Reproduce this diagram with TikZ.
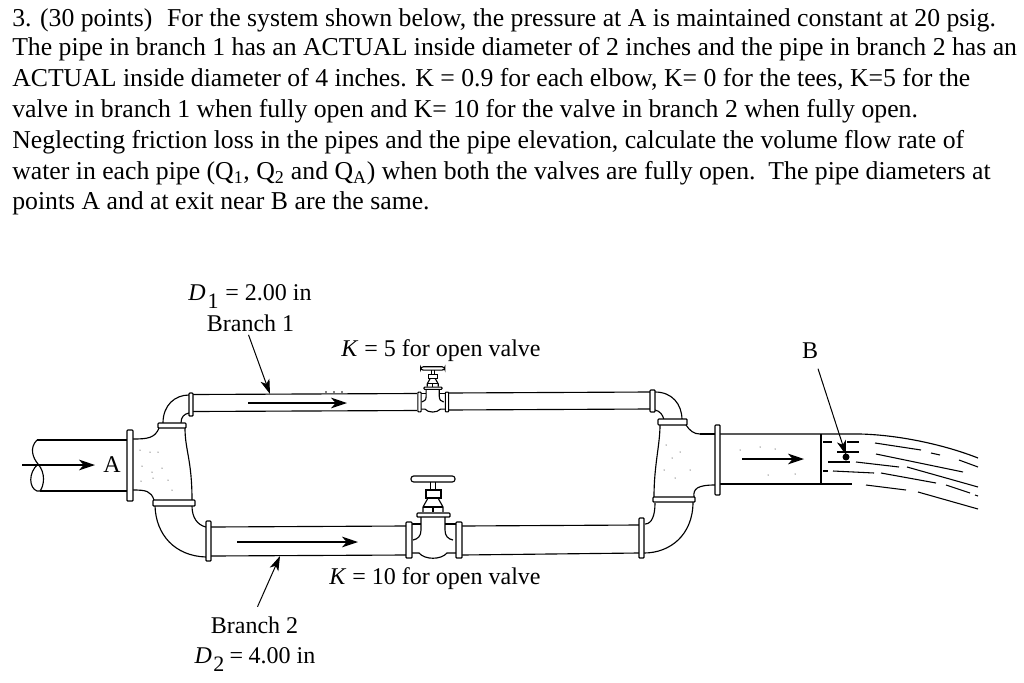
\documentclass[tikz,border=0pt]{standalone}
\usepackage{fontspec}
\setmainfont{Liberation Serif}
\usetikzlibrary{arrows.meta}
\tikzset{
  pipe/.style={line width=0.85pt},
  flange/.style={line width=0.85pt,fill=white,rounded corners=0.6pt},
  flow/.style={line width=0.85pt,-{Stealth[length=12pt,width=8pt,inset=3.5pt]}},
  leader/.style={line width=0.75pt,-{Stealth[length=11pt,width=7pt,inset=3pt]}},
  jet/.style={line width=0.8pt},
  para/.style={anchor=base west,font=\fontsize{19.3}{22}\selectfont,inner sep=0pt},
  lab/.style={anchor=base,font=\fontsize{18}{20}\selectfont,inner sep=1pt}
}
\newcommand{\subs}[1]{\raisebox{-0.35em}{\fontsize{16.5}{16.5}\selectfont #1}}
\begin{document}
\begin{tikzpicture}[x=0.75pt,y=-0.75pt]
\useasboundingbox (0,0) rectangle (1024,682);

% question text
\node[para] (lineA) at (12,26) {3. (30 points) \,\kern3pt For the system shown below, the pressure at A is maintained constant at 20 psig.};
\node[para] (lineB) at (12,55) {The pipe in branch 1 has an ACTUAL inside diameter of 2 inches and the pipe in branch 2 has an};
\node[para] (lineC) at (12,86) {ACTUAL inside diameter of 4 inches. K = 0.9 for each elbow, K= 0 for the tees, K=5 for the};
\node[para] (lineD) at (12,117) {valve in branch 1 when fully open and K= 10 for the valve in branch 2 when fully open.};
\node[para] (lineE) at (12,148) {Neglecting friction loss in the pipes and the pipe elevation, calculate the volume flow rate of};
\node[para] (lineF) at (12,179) {water in each pipe (Q\textsubscript{1}, Q\textsubscript{2} and Q\textsubscript{A}) when both the valves are fully open. \,The pipe diameters at};
\node[para] (lineG) at (12,209) {points A and at exit near B are the same.};

% inlet
\draw[pipe] (37,440) -- (127,440);
\draw[pipe] (40,491) -- (127,491);
\draw[pipe] (37,440) .. controls (29,448) and (33,458) .. (38,464) .. controls (46,473) and (44,486) .. (40,491);
\draw[pipe] (38,464) .. controls (28,473) and (29,488) .. (37,491) -- (40,491);
\draw[flow] (22,465) -- (95,465);

% left tee and elbows
\draw[pipe] (133,439) .. controls (148,439) and (155,438) .. (159,428);
\draw[pipe] (133,490) .. controls (146,490) and (151,491) .. (154,500);
\draw[pipe] (185,428) .. controls (185,450) and (192,460) .. (192,500);
\draw[pipe] (163,423) .. controls (163,405) and (175,395) .. (189,395);
\draw[pipe] (181,423) .. controls (181,417) and (184,414) .. (189,413);
\draw[pipe] (155,506) .. controls (156,535) and (175,556) .. (206,557);
\draw[pipe] (192,506) .. controls (192,517) and (197,525) .. (206,527);

% right tee and elbows
\draw[pipe] (700,434) -- (715,434);
\draw[pipe] (686,425) .. controls (690,431) and (694,434) .. (700,434);
\draw[pipe] (660,425) .. controls (660,445) and (654,465) .. (654,497);
\draw[pipe] (694,497) .. controls (693,489) and (697,485) .. (715,485);
\draw[pipe] (655,392) .. controls (672,392) and (682,404) .. (682,420);
\draw[pipe] (655,410) .. controls (660,411) and (663,415) .. (664,420);
\draw[pipe] (644,553) .. controls (670,553) and (693,535) .. (693,502);
\draw[pipe] (645,524) .. controls (652,524) and (655,515) .. (655,503);

% branch pipes
\draw[pipe] (193,394.5) -- (417,393.5);
\draw[pipe] (193,411.5) -- (417,410.5);
\draw[pipe] (448,393) -- (650,392);
\draw[pipe] (448,410) -- (650,409);
\draw[pipe] (211,527) -- (406,526);
\draw[pipe] (211,556) -- (406,555);
\draw[pipe] (462,526) -- (639,525);
\draw[pipe] (462,555) -- (639,553);
\draw[flow] (248,403) -- (347,403);
\draw[flow] (237,542) -- (358,542);

% outlet
\draw[pipe] (720,434) -- (860,434) .. controls (900,435) and (945,445) .. (978,458);
\draw[pipe] (720,484) -- (821,484);
\draw[line width=1.1pt] (821,434) -- (821,484);
\draw[flow] (742,459) -- (804,459);

% flanges
\foreach \xa/\ya/\xb/\yb in {127/430/133/501, 158/423/186/428, 153/500/195/506,
  189/393/193/416, 206/521/211/561, 650/390/655/412, 658/419/687/425, 653/497/695/502,
  715/425/720/495, 639/518/644/558}{
\draw[flange] (\xa,\ya) rectangle (\xb,\yb);}

% valves
\foreach \vx/\vy/\vs in {432.7/402/0.55, 433/540/1}{
\begin{scope}[shift={(\vx,\vy)},scale=\vs]
\draw[flange,rounded corners=2pt] (-22,-64) rectangle (22,-58);
\draw[pipe] (-2.5,-58) -- (-2.5,-50);
\draw[pipe] (2.5,-58) -- (2.5,-50);
\draw[pipe] (-7,-50) -- (8,-50) -- (8,-42) -- (-7,-42) -- cycle;
\draw[pipe] (-5,-42) -- (-10,-33) -- (-10,-28);
\draw[pipe] (5,-42) -- (10,-33) -- (10,-28);
\draw[pipe] (-10,-33) -- (10,-33);
\draw[pipe] (0,-33) -- (0,-28);
\draw[flange] (-16,-27) rectangle (17,-23);
\draw[pipe] (-12,-23) -- (-12,-10) .. controls (-12,-4) and (-15,-1) .. (-20,0);
\draw[pipe] (12,-23) -- (12,-10) .. controls (12,-4) and (15,-1) .. (20,0);
\draw[pipe] (-21,-16) -- (-12,-16);
\draw[pipe] (12,-16) -- (23,-16);
\draw[pipe] (-21,13) -- (-14,13) .. controls (-8,20) and (8,20) .. (14,13) -- (23,13);
\draw[flange] (-27,-18) rectangle (-21,18);
\draw[flange] (23,-18) rectangle (29,18);
\end{scope}}

% jet
\foreach \xa/\ya/\xb/\yb in {823/442/832/442, 847/442/859/442, 875/443/921/450, 931/453/940/455,
  959/460/978/467, 837/452/859/452, 876/454/963/472, 828/462/850/462, 856/462/899/467,
  907/467/978/487, 823/471/828/471, 833/471/874/473, 881/473/936/483, 946/485/970/493,
  975/495/978/496, 821/484/852/484, 866/485/906/490, 918/492/978/509}{
\draw[jet] (\xa,\ya) -- (\xb,\yb);}
\fill (846,457) circle (3.5);

% speckle in the tees
\foreach \dx/\dy in {140/450, 150/452, 158/452, 142/466, 152/472, 162/468, 141/481, 153/478,
  168/480, 172/490, 666/445, 672/458, 680/452, 664/470, 675/478, 690/470, 740/450, 760/447,
  775/449, 795/474, 768/475}{
\fill (\dx,\dy) circle (0.5);}
\foreach \dx in {326,334,342}{\fill (\dx,392) circle (0.8);}

% labels
\node[lab] (dOne) at (250,300) {\textit{D}\kern1.5pt\subs{1}\kern5pt=\kern4.5pt 2.00 in};
\node[lab] (branchOne) at (250.5,331) {Branch 1};
\node[lab] (kOne) at (441,356) {\textit{K} = 5 for open valve};
\node[lab] (pointB) at (810,358) {B};
\node[lab] (pointA) at (112,472) {A};
\node[lab] (kTwo) at (435,584) {\textit{K} = 10 for open valve};
\node[lab] (branchTwo) at (254.5,633) {Branch 2};
\node[lab] (dTwo) at (255,663) {\textit{D}\kern1pt\subs{2}\kern4pt=\kern4pt 4.00 in};

\coordinate (tipOne) at (270,394);
\coordinate (tipTwo) at (280,556);
\coordinate (tipB) at (846,455);
\draw[leader] (branchOne.south) ++(-2,2) -- (tipOne);
\draw[leader] (branchTwo.north) ++(3,-8) -- (tipTwo);
\draw[leader] (pointB.south) ++(8,9) -- (tipB);
\end{tikzpicture}
\end{document}
